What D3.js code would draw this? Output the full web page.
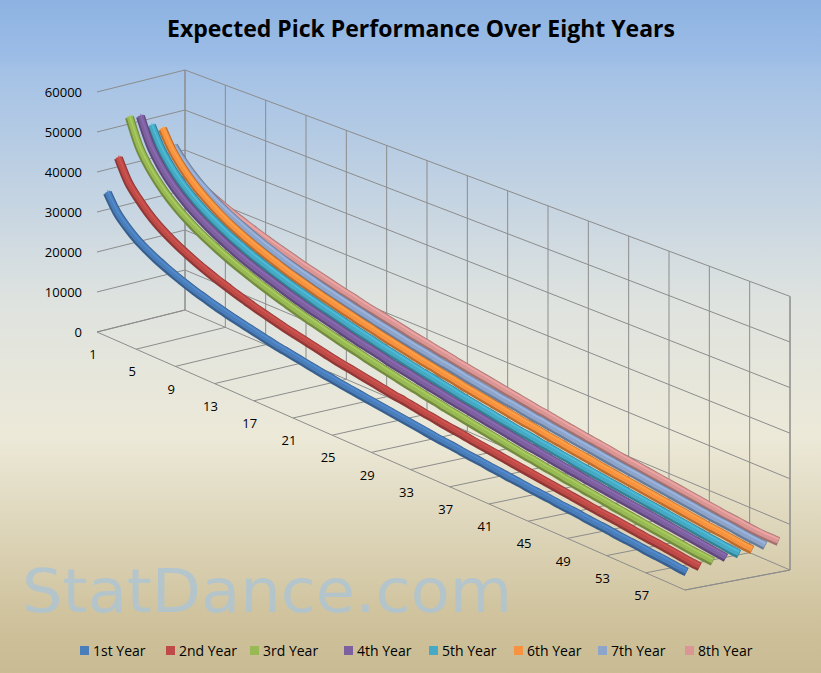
<!DOCTYPE html>
<html><head><meta charset="utf-8">
<script src="https://cdn.jsdelivr.net/npm/d3@7"></script>
<style>body{margin:0}svg{display:block}</style></head>
<body><svg id="c" width="821" height="673"></svg>
<script>
const seriesNames=["1st Year","2nd Year","3rd Year","4th Year","5th Year","6th Year","7th Year","8th Year"];
const colors=["#4a7ebb","#be4b48","#98b954","#7d60a0","#46aac5","#f69240","#8ea5cb","#d99694"];
const yTicks=[0,10000,20000,30000,40000,50000,60000];
const catLabels=[1,5,9,13,17,21,25,29,33,37,41,45,49,53,57];
const y1=[35000,31000,28500,26500,25000,23700,22600,21600,20700,19900,19200,18500,17900,17300,16800,16300,15800,15300,14900,14500,14100,13700,13300,13000,12600,12300,12000,11700,11400,11100,10800,10500,10200,9900,9600,9400,9100,8800,8600,8300,8100,7800,7600,7300,7100,6900,6600,6400,6200,5900,5700,5500,5200,5000,4800,4500,4300,4100,3800,3600];
const y2=[43000,38000,35000,32500,30500,28900,27500,26300,25200,24200,23300,22500,21700,21000,20300,19700,19100,18500,18000,17500,17000,16500,16000,15600,15200,14800,14400,14000,13600,13300,12900,12500,12200,11800,11500,11200,10800,10500,10200,9900,9600,9300,9000,8700,8400,8100,7800,7500,7200,6900,6700,6400,6100,5800,5500,5300,5000,4700,4400,4200];
const y3=[52500,46000,42000,39000,36500,34500,32800,31300,30000,28800,27700,26700,25800,24900,24100,23300,22600,21900,21200,20600,20000,19400,18800,18300,17700,17200,16700,16200,15700,15300,14800,14400,13900,13500,13100,12700,12300,11900,11500,11100,10700,10400,10000,9700,9300,9000,8600,8300,8000,7600,7300,7000,6700,6400,6100,5800,5500,5200,5000,4800];
const y4=[52000,45800,41800,38800,36400,34400,32700,31200,29900,28700,27600,26600,25700,24900,24100,23300,22600,21900,21300,20700,20100,19500,18900,18400,17900,17300,16800,16400,15900,15400,15000,14500,14100,13700,13300,12900,12500,12100,11700,11300,11000,10600,10200,9900,9600,9200,8900,8600,8300,8000,7700,7400,7100,6800,6500,6200,5900,5600,5300,5000];
const y5=[49000,44000,40500,37800,35600,33700,32100,30700,29400,28300,27200,26300,25400,24600,23800,23100,22400,21700,21100,20500,19900,19300,18800,18200,17700,17200,16700,16200,15800,15300,14900,14400,14000,13600,13200,12800,12400,12000,11700,11300,11000,10600,10300,9900,9600,9300,9000,8700,8400,8100,7800,7500,7200,6900,6600,6300,6000,5700,5400,5200];
const y6=[47500,43000,39800,37200,35100,33300,31700,30300,29100,28000,27000,26100,25200,24400,23700,23000,22300,21700,21100,20500,19900,19400,18800,18300,17800,17300,16800,16400,15900,15500,15000,14600,14200,13800,13400,13000,12600,12300,11900,11500,11200,10800,10500,10200,9800,9500,9200,8900,8600,8300,8000,7700,7400,7100,6800,6500,6300,6000,5700,5500];
const y7=[42500,39500,37000,35000,33300,31800,30500,29300,28200,27200,26300,25400,24600,23900,23200,22500,21900,21300,20700,20200,19600,19100,18600,18100,17600,17200,16700,16300,15900,15400,15000,14600,14200,13800,13500,13100,12700,12400,12000,11700,11300,11000,10700,10300,10000,9700,9400,9100,8800,8500,8200,7900,7600,7300,7000,6800,6500,6200,6000,5800];
const y8=[35000,34000,32800,31600,30500,29500,28600,27700,26900,26100,25400,24700,24000,23400,22800,22200,21600,21100,20500,20000,19500,19000,18500,18000,17600,17100,16700,16200,15800,15400,15000,14600,14200,13800,13400,13000,12700,12300,11900,11600,11200,10900,10600,10200,9900,9600,9300,9000,8700,8400,8100,7800,7500,7200,6900,6700,6400,6200,6100,6100];
const data=[y1,y2,y3,y4,y5,y6,y7,y8];
const N=y1.length;

const svg=d3.select("#c");
const defs=svg.append("defs");
const g=defs.append("linearGradient").attr("id","bg").attr("x1",0).attr("x2",0).attr("y1",0).attr("y2",1);
[[0,"#8db3e2"],[0.09,"#9dbde6"],[0.1,"#a3c1e6"],[0.45,"#dfe3df"],[0.65,"#ece9d8"],[0.92,"#cfc29c"],[1,"#c9bb92"]].forEach(s=>g.append("stop").attr("offset",s[0]).attr("stop-color",s[1]));
svg.append("rect").attr("width",821).attr("height",673).attr("fill","url(#bg)");

const cx=d3.scaleLinear().domain([0,N]).range([0,588]);
const vy=d3.scaleLinear().domain([0,60000]).range([0,240]);
const ox=97,oy=332,slope=258/588;
function P(c,d,v){
  const f=c/N, px=cx(c);
  const dx=88+17*f, dy=-22+2*f, k=1+d*f*0.14;
  return [ox+px+d*dx, oy+px*slope+d*dy-vy(v)*k];
}

const grid=svg.append("g").attr("stroke","#8c8c8c").attr("stroke-width",1).attr("fill","none");
yTicks.forEach(t=>{
  const a=P(0,0,t),b=P(0,1,t),c=P(N,1,t);
  grid.append("path").attr("d",`M${a}L${b}L${c}`);
});
for(let c=0;c<=N;c+=4){
  const a=P(c,0,0),b=P(c,1,0),t=P(c,1,60000);
  grid.append("path").attr("d",`M${a}L${b}L${t}`);
}
grid.append("path").attr("d",`M${P(0,0,0)}L${P(N,0,0)}L${P(N,1,0)}`);
grid.append("path").attr("d",`M${P(0,1,0)}L${P(0,1,60000)}`);
grid.append("path").attr("d",`M${P(N,1,0)}L${P(N,1,60000)}`);

const font="'Open Sans', 'Liberation Sans', sans-serif";
svg.append("g").selectAll("text").data(yTicks).join("text")
 .attr("x",82).attr("y",d=>oy-vy(d)+5).attr("text-anchor","end")
 .attr("font-family",font).attr("font-size",13).attr("fill","#000").text(d=>d);
svg.append("g").selectAll("text").data(catLabels).join("text")
 .attr("x",d=>P(d-0.5,0,0)[0]-9).attr("y",d=>P(d-0.5,0,0)[1]+25).attr("text-anchor","middle")
 .attr("font-family",font).attr("font-size",13).attr("fill","#000").text(d=>d);

svg.append("text").attr("x",22).attr("y",612).attr("font-family","'DejaVu Sans', sans-serif").attr("font-size",60)
 .attr("fill","#a9c4d8").attr("opacity",0.75).attr("textLength",490).attr("lengthAdjust","spacingAndGlyphs").text("StatDance.com");

const lineG=svg.append("g");
for(let s=7;s>=0;s--){
  const d=(2*s+1)/16;
  const pts=data[s].map((v,i)=>P(i+0.5,d,v));
  const line=d3.line().curve(d3.curveMonotoneX);
  const col=d3.color(colors[s]);
  lineG.append("path").attr("d",line(pts)).attr("fill","none").attr("stroke",col.darker(0.8)).attr("stroke-width",9);
  lineG.append("path").attr("d",line(pts.map(p=>[p[0],p[1]-1]))).attr("fill","none").attr("stroke",colors[s]).attr("stroke-width",6);
  lineG.append("path").attr("d",line(pts.map(p=>[p[0],p[1]-2.5]))).attr("fill","none").attr("stroke",col.brighter(0.4)).attr("stroke-width",1.5).attr("opacity",0.7);
}

svg.append("text").attr("x",421).attr("y",37).attr("text-anchor","middle").attr("font-family",font)
 .attr("font-weight","bold").attr("font-size",23).attr("fill","#000").text("Expected Pick Performance Over Eight Years");

const leg=svg.append("g");
const lx=[80,166,250,344,429,514,598,685];
seriesNames.forEach((n,i)=>{
  leg.append("rect").attr("x",lx[i]).attr("y",646).attr("width",9).attr("height",9).attr("fill",colors[i]);
  leg.append("text").attr("x",lx[i]+13).attr("y",656).attr("font-family",font).attr("font-size",14).attr("fill","#000").text(n);
});
</script></body></html>
